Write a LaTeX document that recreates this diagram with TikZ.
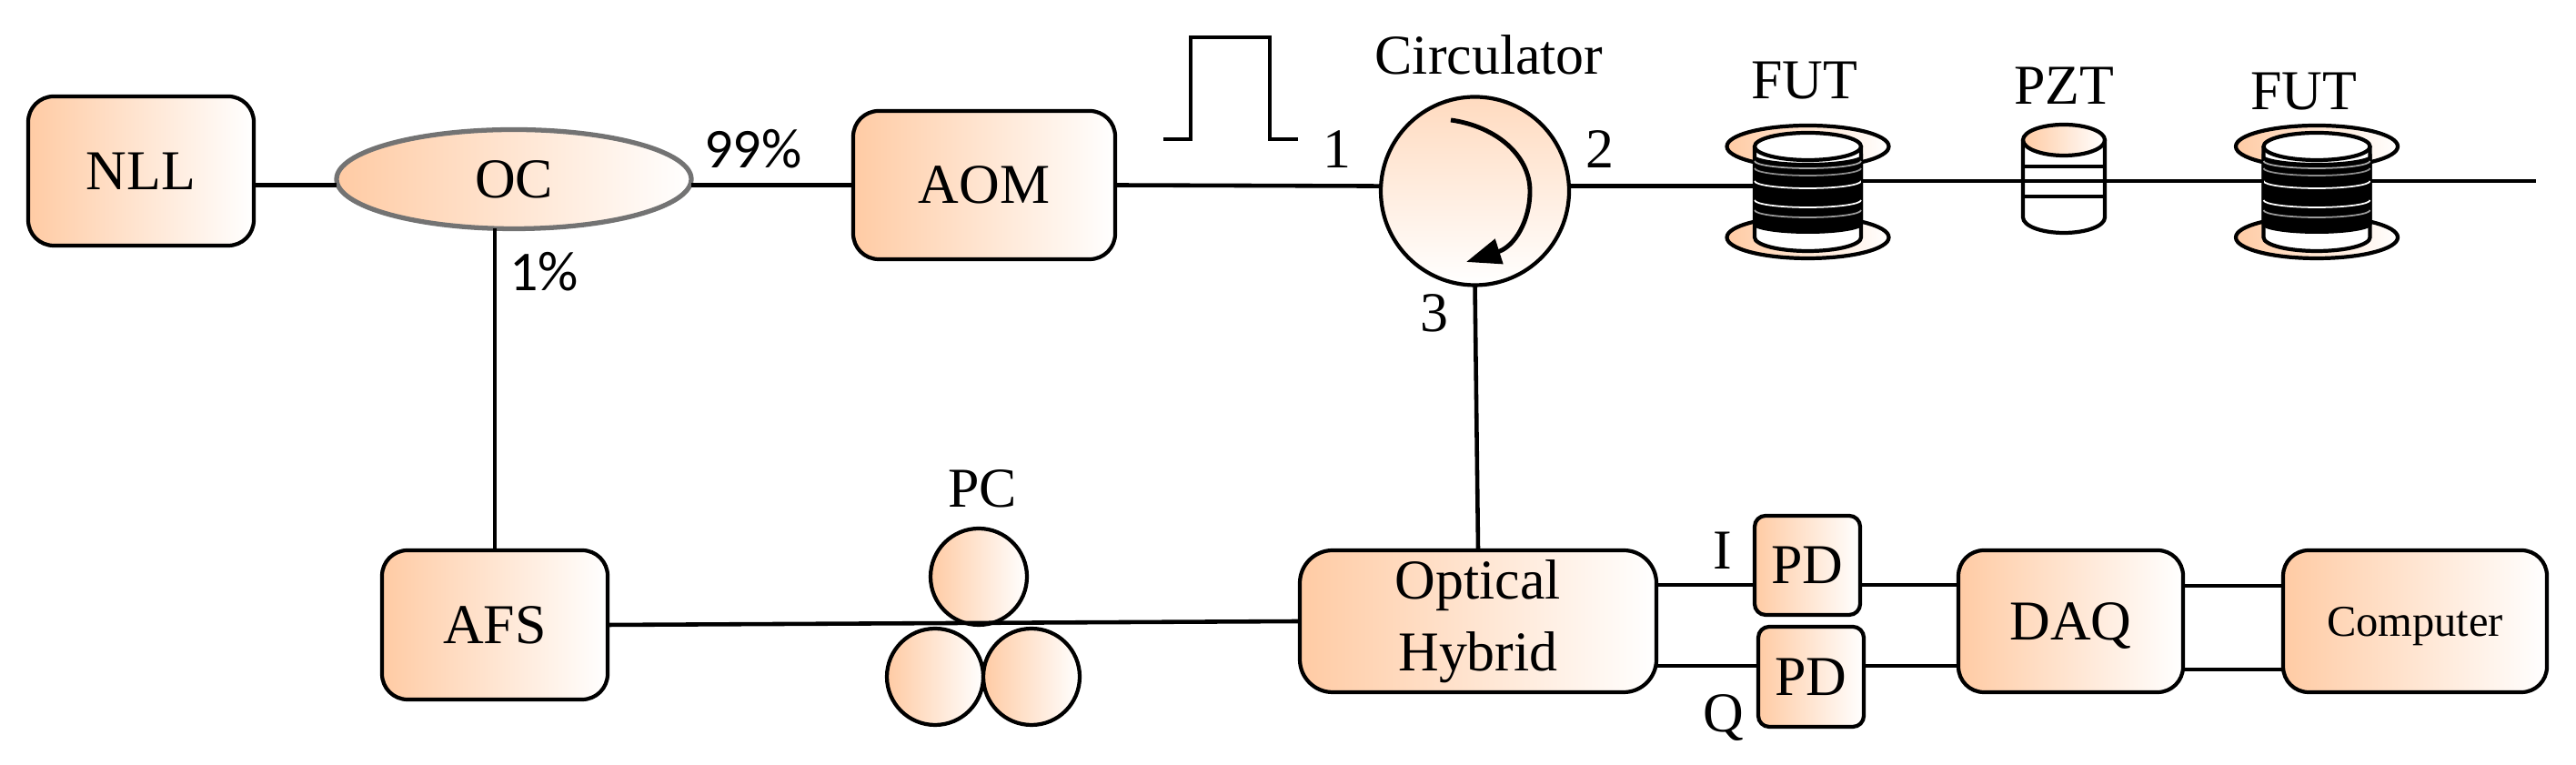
\documentclass[tikz,border=0pt]{standalone}
\usepackage{fontspec}
\setmainfont{Liberation Serif}
\newfontfamily\calfont{Carlito}
\usetikzlibrary{shapes,arrows.meta,positioning}
\definecolor{boxpeach}{RGB}{255,203,164}

\begin{document}
\begin{tikzpicture}[
    box/.style={rectangle, draw, line width=1.2pt, rounded corners=0.28cm, inner sep=0pt, outer sep=0pt, align=center,
        left color=boxpeach, middle color=boxpeach!35!white, right color=white, font=\fontsize{17.6}{22.5}\selectfont},
    wheel/.style={circle, draw, line width=1.2pt, inner sep=0pt, outer sep=0pt, minimum size=1.06cm,
        left color=boxpeach, middle color=boxpeach!30!white, right color=white},
    flange/.style={ellipse, draw, line width=1.2pt, inner sep=0pt, outer sep=0pt, minimum width=1.78cm, minimum height=0.46cm,
        left color=boxpeach, middle color=boxpeach!20!white, right color=white},
    lbl/.style={inner sep=0pt, outer sep=0pt, font=\fontsize{17.6}{20}\selectfont},
    pct/.style={inner sep=0pt, outer sep=0pt, font=\calfont\fontsize{17.6}{20}\selectfont},
    fiber/.style={line width=1.3pt}
]
    \useasboundingbox (0,0) rectangle (28.32,8.41);

    % Top row
    \node[box, minimum width=2.48cm, minimum height=1.64cm] (nll) at (1.55,6.53) {NLL};
    \node[ellipse, draw=black!55, line width=1.5pt, inner sep=0pt, outer sep=0pt, minimum width=3.90cm, minimum height=1.09cm,
        left color=boxpeach, middle color=boxpeach!30!white, right color=white, font=\fontsize{17.6}{20}\selectfont,
        right=0.91cm of nll, yshift=-0.09cm] (oc) {OC};
    \node[box, minimum width=2.88cm, minimum height=1.63cm, right=1.78cm of oc, yshift=-0.065cm] (aom) {AOM};
    \node[circle, draw, line width=1.2pt, inner sep=0pt, outer sep=0pt, minimum size=2.07cm,
        top color=boxpeach!70!white, bottom color=white, right=2.92cm of aom, yshift=-0.065cm] (circ) {};

    % Spool bodies and the piezo cylinder
    \node[minimum width=1.17cm, minimum height=1.00cm, inner sep=0pt, outer sep=0pt, right=2.04cm of circ, yshift=-0.01cm] (futa) {};
    \node[minimum width=0.90cm, minimum height=0.85cm, inner sep=0pt, outer sep=0pt, right=1.78cm of futa, yshift=0.145cm] (pzt) {};
    \node[minimum width=1.17cm, minimum height=1.00cm, inner sep=0pt, outer sep=0pt, right=1.745cm of pzt, yshift=-0.145cm] (futb) {};

    \foreach \sname in {futa,futb} {
        \node[flange] (\sname top) at (\sname.north) {};
        \node[flange] (\sname bot) at (\sname.south) {};
        \begin{scope}[shift={(\sname)}]
            \draw[line width=1.2pt, fill=white] (-0.585,0.50) -- (-0.585,-0.50) arc[start angle=180, end angle=360, x radius=0.585, y radius=0.15] -- (0.585,0.50);
            \draw[line width=1.2pt, fill=white] (0,0.50) ellipse[x radius=0.585, y radius=0.15];
            \fill[black] (-0.605,0.42) arc[start angle=180, end angle=360, x radius=0.605, y radius=0.10] -- (0.605,-0.36) arc[start angle=0, end angle=-180, x radius=0.605, y radius=0.10] -- cycle;
            \foreach \wy/\wc in {0.34/black!35, 0.26/black!45, 0.12/white, -0.09/white, -0.20/black!40} {
                \draw[\wc, line width=0.5pt] (-0.585,\wy) arc[start angle=180, end angle=360, x radius=0.585, y radius=0.08];
            }
        \end{scope}
    }

    \node[ellipse, draw, line width=1.2pt, inner sep=0pt, outer sep=0pt, minimum width=0.90cm, minimum height=0.34cm,
        left color=boxpeach, right color=white] (pzttop) at (pzt.north) {};
    \draw[line width=1.2pt] (pzttop.west) -- (pzt.south west) arc[start angle=180, end angle=360, x radius=0.45, y radius=0.17] -- (pzttop.east);
    \foreach \by in {0.135,-0.195} {
        \draw[line width=1.4pt] ([yshift=\by cm]pzt.west) -- ([yshift=\by cm]pzt.east);
    }

    % Bottom row
    \node[box, minimum width=2.48cm, minimum height=1.64cm] (afs) at (5.44,1.54) {AFS};
    \node[wheel, right=3.07cm of afs, yshift=-0.57cm] (pcb) {};
    \node[wheel, right=0cm of pcb] (pcc) {};
    \node[wheel] (pca) at (10.76,2.07) {};
    \node[box, rounded corners=0.36cm, minimum width=3.92cm, minimum height=1.56cm, right=7.61cm of afs, yshift=0.04cm] (hybrid) {Optical\\Hybrid};
    \node[box, rounded corners=0.12cm, minimum width=1.16cm, minimum height=1.09cm, right=1.08cm of hybrid, yshift=0.615cm] (pda) {PD};
    \node[box, rounded corners=0.12cm, minimum width=1.16cm, minimum height=1.10cm, right=1.12cm of hybrid, yshift=-0.61cm] (pdb) {PD};
    \node[box, minimum width=2.47cm, minimum height=1.56cm, text depth=0pt, right=3.32cm of hybrid] (daq) {DAQ};
    \node[box, minimum width=2.90cm, minimum height=1.56cm, text depth=0pt, right=1.10cm of daq, font=\fontsize{13.8}{16}\selectfont] (comp) {Computer};

    % Labels
    \node[lbl, above=0.24cm of circ, xshift=0.155cm] (circlbl) {Circulator};
    \node[lbl, above=0.29cm of futatop, xshift=-0.04cm] (futalbl) {FUT};
    \node[lbl, above=0.22cm of pzttop] (pztlbl) {PZT};
    \node[lbl, above=0.17cm of futbtop, xshift=-0.14cm] (futblbl) {FUT};
    \node[lbl, above=0.23cm of pca, xshift=0.04cm] (pclbl) {PC};
    \node[pct] (high) at (8.28,6.77) {99\%};
    \node[pct] (low) at (5.98,5.42) {1\%};
    \node[lbl] (porta) at (14.70,6.765) {1};
    \node[lbl] (portb) at (17.59,6.77) {2};
    \node[lbl] (portc) at (15.77,4.97) {3};
    \node[lbl] (ilbl) at (18.94,2.355) {I};
    \node[lbl, anchor=base] (qlbl) at (18.95,0.36) {Q};

    % Pulse above the modulator output
    \coordinate (pulse) at (12.79,6.88);
    \draw[fiber] (pulse) -- ++(0.30,0) -- ++(0,1.12) -- ++(0.87,0) -- ++(0,-1.12) -- ++(0.31,0);

    % Rotation arrow inside the circulator
    \draw[line width=1.4pt, -{Triangle[length=0.38cm, width=0.28cm]}] (15.95,7.09) .. controls (16.45,7.02) and (16.82,6.70) .. (16.82,6.31)
        .. controls (16.82,5.98) and (16.65,5.70) .. (16.12,5.53);

    % Lines
    \coordinate (fibend) at (27.88,6.42);
    \coordinate (iline) at (0,1.98);
    \coordinate (qline) at (0,1.09);
    \draw[fiber] (nll.east |- aom.west) -- (oc.west |- aom.west);
    \draw[fiber] (oc.east |- aom.west) -- (aom.west);
    \draw[fiber] (afs.north) -- (afs.north |- oc.south);
    \draw[fiber] (aom.east) -- (circ.177);
    \draw[fiber] (circ.3) -- (circ.3 -| futa.west);
    \draw[fiber] (futa.east |- fibend) -- (futb.west |- fibend);
    \draw[fiber] (futb.east |- fibend) -- (fibend);
    \draw[fiber] (circ.south) -- (hybrid.north);
    \draw[fiber] (afs.east) -- (hybrid.west);
    \draw[fiber] (hybrid.east |- iline) -- (pda.west |- iline);
    \draw[fiber] (hybrid.east |- qline) -- (pdb.west |- qline);
    \draw[fiber] (pda.east |- iline) -- (daq.west |- iline);
    \draw[fiber] (pdb.east |- qline) -- (daq.west |- qline);
    \draw[fiber] ([yshift=0.39cm]daq.east) -- ([yshift=0.39cm]comp.west);
    \draw[fiber] ([yshift=-0.53cm]daq.east) -- ([yshift=-0.53cm]comp.west);

\end{tikzpicture}
\end{document}
